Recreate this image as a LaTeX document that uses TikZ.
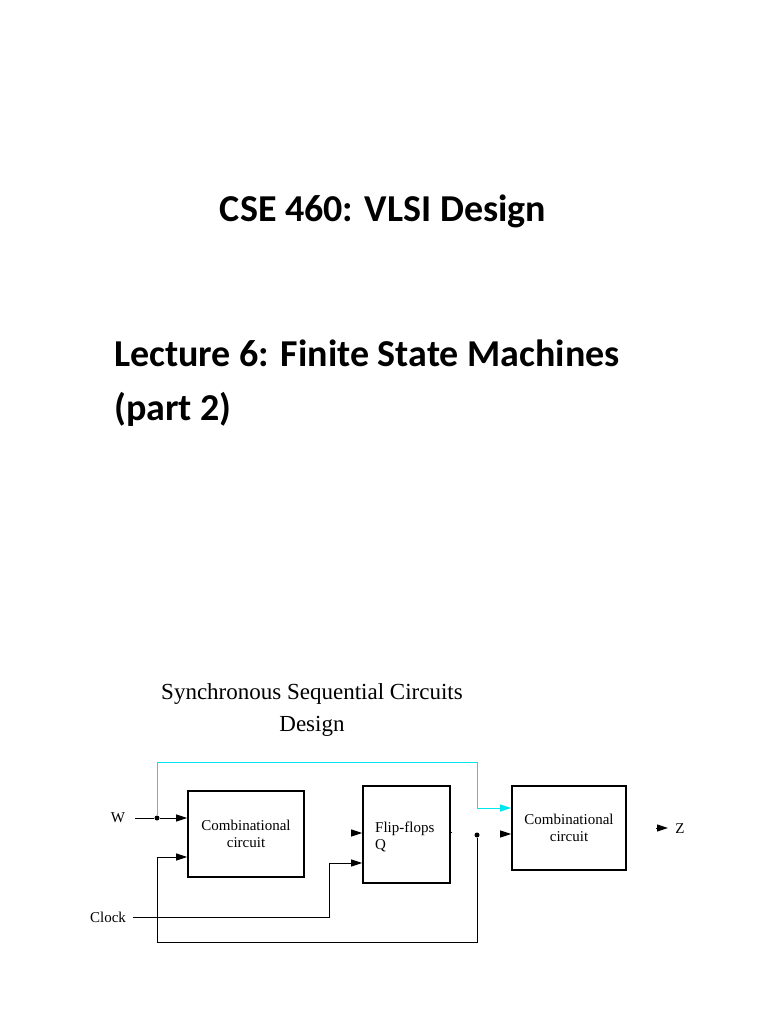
\documentclass[tikz,border=0pt]{standalone}
\usepackage{fontspec}
\setmainfont{Liberation Serif}
\newfontfamily\slidefont{Carlito}
\usetikzlibrary{arrows.meta,positioning}
\definecolor{wirecyan}{RGB}{0,230,240}

\begin{document}
\begin{tikzpicture}[x=1pt,y=-1pt,
    block/.style={rectangle, draw, line width=1.6pt, inner sep=0pt, align=center, font=\fontsize{15}{17}\selectfont},
    lbl/.style={font=\fontsize{15}{17}\selectfont, inner sep=2pt},
    arrow/.style={-{Triangle[length=11pt,width=7pt]}, line width=1pt},
    wire/.style={line width=1pt},
    dot/.style={circle, fill, inner sep=0pt, minimum size=5pt}
]
    \useasboundingbox (0,0) rectangle (768,1024);

    % slide titles
    \node[font=\slidefont\bfseries\fontsize{38}{46}\selectfont] (title) at (383,211) {CSE 460: VLSI Design};
    \node[font=\slidefont\bfseries\fontsize{38}{54}\selectfont, anchor=north west, align=left, inner sep=0pt] (lecture) at (114,340) {Lecture 6: Finite State Machines\\(part 2)};
    \node[font=\fontsize{23}{32}\selectfont, align=center] (heading) at (312,710) {Synchronous Sequential Circuits\\Design};

    % blocks
    \node[block, minimum width=116pt, minimum height=86pt] (comb1) at (246,834) {Combinational\\circuit};
    \node[block, minimum width=87pt, minimum height=97pt] (ff) at (406.5,834.5) {};
    \node[lbl, anchor=west] (fftext) at (373,829) {Flip-flops};
    \node[lbl, anchor=west] (q) at (373,846) {Q};
    \node[block, minimum width=114pt, minimum height=84pt] (comb2) at (569,828) {Combinational\\circuit};

    % labels
    \node[lbl] (w) at (118,818) {W};
    \node[lbl] (clock) at (108,917) {Clock};
    \node[lbl] (z) at (680,829) {Z};

    % junctions and corners
    \node[dot] (wdot) at (157,818) {};
    \node[dot] (qdot) at (477,835) {};
    \coordinate (ffout) at (451,832);
    \coordinate (fbcorner) at (157,942);
    \coordinate (clkturn) at (329,917);

    % W input
    \draw[wire] (135,818) -- (wdot);
    \draw[arrow] (wdot) -- (comb1.west |- wdot);
    \draw[wire, wirecyan] (wdot) |- (477,762) |- (505,808);
    \draw[arrow, wirecyan] (500,808) -- (comb2.west |- 0,808);

    % feedback from Q
    \draw[wire] (qdot) |- (fbcorner) |- (175,857);
    \draw[arrow] (175,857) -- (comb1.west |- 0,857);

    % clock
    \draw[wire] (133,917) -- (clkturn) |- (350,863);
    \draw[arrow] (350,863) -- (ff.west |- 0,863);

    % stub arrows
    \draw[arrow] (351,833) -- (ff.west |- 0,833);
    \draw[wire] (ffout) -- ++(1,0);
    \draw[arrow] (500,834) -- (comb2.west |- 0,834);
    \draw[arrow] (656,828) -- (668,828);
\end{tikzpicture}
\end{document}
